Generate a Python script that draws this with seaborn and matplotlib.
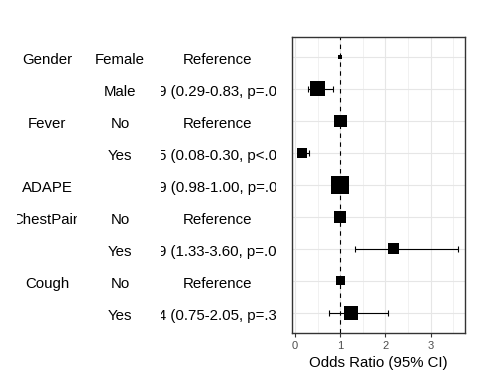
import numpy as np
import pandas as pd
import matplotlib
matplotlib.use("Agg")
import matplotlib.pyplot as plt
import seaborn as sns

# ==================================================
# DATA
# ==================================================

variables = ["Gender", "", "Fever", "", "ADAPE", "ChestPain", "", "Cough", ""]
levels = ["Female", "Male", "No", "Yes", "", "No", "Yes", "No", "Yes"]
estimates = [
    "Reference",
    "0.49 (0.29-0.83, p=.006)",
    "Reference",
    "0.15 (0.08-0.30, p<.001)",
    "0.99 (0.98-1.00, p=.009)",
    "Reference",
    "2.19 (1.33-3.60, p=.002)",
    "Reference",
    "1.24 (0.75-2.05, p=.397)",
]
odds = [1, 0.49, 1, 0.15, 0.99, 1, 2.19, 1, 1.24]
lower = [np.nan, 0.29, np.nan, 0.08, 0.98, np.nan, 1.33, np.nan, 0.75]
upper = [np.nan, 0.83, np.nan, 0.30, 1.00, np.nan, 3.60, np.nan, 2.05]
weight = [16, 225, 161, 100, 324, 151, 121, 86, 188]

df = pd.DataFrame({
    "row": np.arange(len(odds)),
    "odds": odds,
    "lower": lower,
    "upper": upper,
    "weight": weight,
})

# ==================================================
# STYLE
# ==================================================

sns.set_theme(style="white")
plt.rcParams["font.family"] = ["Liberation Sans", "DejaVu Sans"]

fig = plt.figure(figsize=(4.8, 3.84), dpi=100)

W, H = 480, 384
bottom = 1 - 333 / H
height = (333 - 36.7) / H
ylims = (8.63, -0.63)

# ==================================================
# FOREST PANEL
# ==================================================

ax = fig.add_axes([291.5 / W, bottom, (465.3 - 291.5) / W, height])

ax.set_xticks([0, 1, 2, 3])
ax.set_xticks([0.5, 1.5, 2.5, 3.5], minor=True)
ax.set_yticks(df["row"])
ax.set_yticklabels([])
ax.grid(which="major", color="#E6E6E6", linewidth=0.8)
ax.grid(which="minor", axis="x", color="#EFEFEF", linewidth=0.6)
ax.set_axisbelow(True)

ax.axvline(1, color="black", linestyle=(0, (4, 4)), linewidth=0.8, zorder=1)

ci = df.dropna()
ax.errorbar(
    ci["odds"], ci["row"],
    xerr=[ci["odds"] - ci["lower"], ci["upper"] - ci["odds"]],
    fmt="none", ecolor="black", elinewidth=0.8,
    capsize=2, capthick=0.8, zorder=2
)

sns.scatterplot(
    data=df, x="odds", y="row",
    size="weight", sizes=(8.3, 168), size_norm=(16, 324),
    marker="s", color="black", edgecolor="none", linewidth=0,
    legend=False, ax=ax, zorder=3
)

ax.set_xlim(-0.08, 3.77)
ax.set_ylim(*ylims)
ax.set_ylabel("")
ax.set_xlabel("Odds Ratio (95% CI)", fontsize=10.8, color="black", labelpad=4)

ax.tick_params(axis="x", which="major", labelsize=8, labelcolor="#4D4D4D",
               color="#333333", length=3, width=0.8, pad=2.5, bottom=True)
ax.tick_params(axis="x", which="minor", length=0)
ax.tick_params(axis="y", length=0)

for s in ax.spines.values():
    s.set_color("#333333")
    s.set_linewidth(1)

# ==================================================
# TABLE COLUMNS (clipped like the original)
# ==================================================

columns = [
    (17.3, 77.3, variables),
    (85, 155, levels),
    (160.5, 275.5, estimates),
]

for x0, x1, texts in columns:
    tax = fig.add_axes([x0 / W, bottom, (x1 - x0) / W, height])
    tax.set_axis_off()
    tax.set_xlim(0, 1)
    tax.set_ylim(*ylims)
    for i, t in enumerate(texts):
        tax.text(0.5, i + 0.04, t, ha="center", va="center_baseline",
                 fontsize=10.8, color="black", clip_on=True)

plt.savefig("out.png", dpi=100)
